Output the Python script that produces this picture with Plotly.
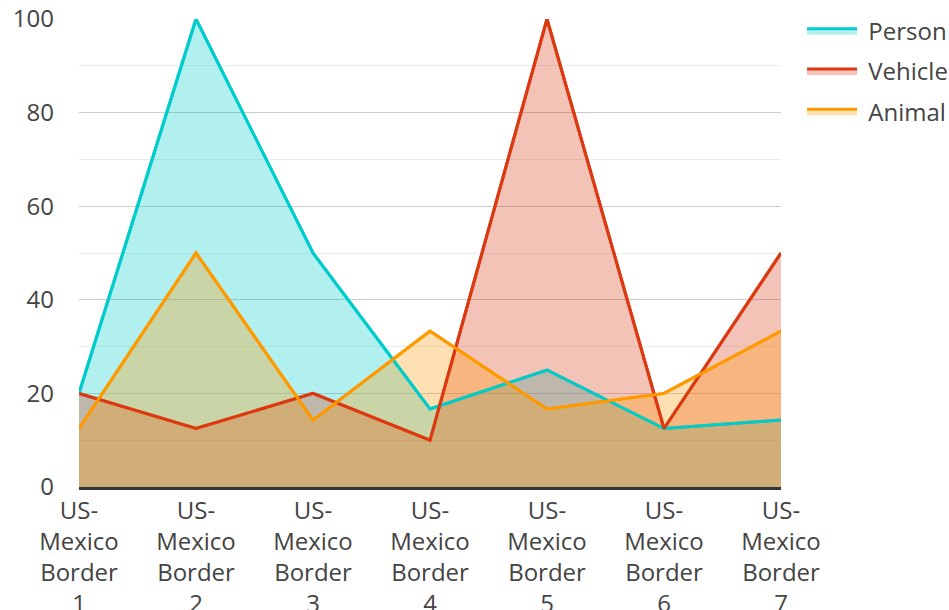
import plotly.graph_objects as go

categories = ["US-<br>Mexico<br>Border<br>%d" % i for i in range(1, 8)]
person = [20, 100, 50, 16.67, 25, 12.5, 14.29]
vehicle = [20, 12.5, 20, 10, 100, 12.5, 50]
animal = [12.5, 50, 14.29, 33.33, 16.67, 20, 33.33]

series = [
    ("Person", person, "#00cccc", "rgba(0,204,204,0.3)"),
    ("Vehicle", vehicle, "#dc3912", "rgba(220,57,18,0.3)"),
    ("Animal", animal, "#ff9900", "rgba(255,153,0,0.3)"),
]

fig = go.Figure()
for name, vals, col, fillc in series:
    fig.add_trace(go.Scatter(
        x=categories, y=vals, name=" " + name, mode="lines",
        line=dict(color=col, width=3), fill="tozeroy", fillcolor=fillc,
        legendgroup=name,
    ))
for name, vals, col, fillc in series:
    fig.add_trace(go.Scatter(
        x=categories, y=vals, name=name, mode="lines",
        line=dict(color=col, width=3), showlegend=False, legendgroup=name,
        hoverinfo="skip",
    ))

font = dict(family="Open Sans", size=24, color="#444")
fig.update_layout(
    width=949, height=610,
    margin=dict(l=79, r=168, t=19, b=123, autoexpand=False),
    paper_bgcolor="white", plot_bgcolor="white",
    font=font,
    showlegend=True,
    legend=dict(x=1.03, y=1.022, xanchor="left", yanchor="top", font=font,
                traceorder="grouped", tracegroupgap=6, itemwidth=50,
                bgcolor="rgba(0,0,0,0)"),
    xaxis=dict(range=[0, 6], showgrid=False, zeroline=False, showline=True,
               linecolor="#333", linewidth=3, ticks="", tickfont=font,
               tickangle=0, automargin=False),
    yaxis=dict(range=[0, 100], dtick=20, showgrid=True, gridcolor="#cccccc",
               gridwidth=1, zeroline=False, showline=False, ticks="",
               tickfont=font, ticklabelstandoff=24, automargin=False,
               minor=dict(dtick=10, showgrid=True, gridcolor="#ebebeb", gridwidth=1)),
)
fig.write_html("out.html")
